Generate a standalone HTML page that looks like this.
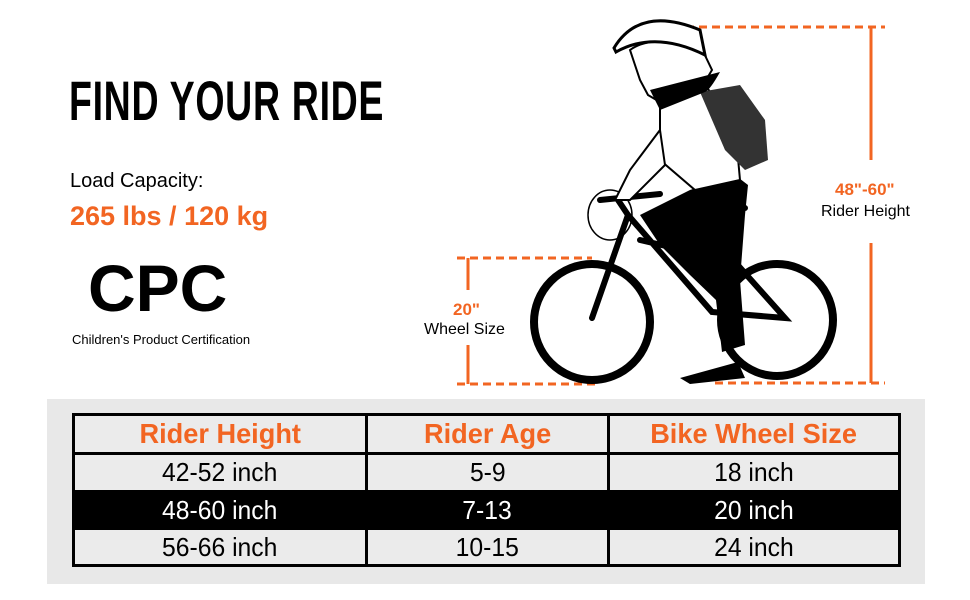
<!DOCTYPE html>
<html><head><meta charset="utf-8"><style>
body{margin:0;width:970px;height:600px;background:#fff;position:relative;overflow:hidden;font-family:"Liberation Sans",sans-serif}
.a{position:absolute;white-space:nowrap}
table{position:absolute;left:72px;top:413px;width:829px;border-collapse:collapse}
td{border:3px solid #000;text-align:center;font-size:26px;padding:0;background:#ebebeb}
td span{display:inline-block;transform:scaleX(0.95)}
td.h{color:#f26522;font-weight:bold;font-size:28px}
td.h span{transform:scaleX(0.97)}
td.k{background:#000;color:#fff}
</style></head><body>
<div class="a" style="left:69px;top:68px;font-weight:bold;font-size:56px;letter-spacing:1px;transform:scaleX(0.67);transform-origin:left">FIND YOUR RIDE</div>
<div class="a" style="left:70px;top:170px;font-size:20px">Load Capacity:</div>
<div class="a" style="left:70px;top:201px;font-size:27px;font-weight:bold;color:#f26522">265 lbs / 120 kg</div>
<div class="a" style="left:88px;top:250px;font-size:66px;font-weight:bold">CPC</div>
<div class="a" style="left:72px;top:332px;font-size:13px">Children's Product Certification</div>

<svg class="a" style="left:0;top:0" width="970" height="600">
<g stroke="#f26522" stroke-width="3" fill="none">
<line x1="660" y1="27" x2="885" y2="27" stroke-dasharray="8,5"/>
<line x1="871" y1="27" x2="871" y2="160"/>
<line x1="871" y1="243" x2="871" y2="383"/>
<line x1="715" y1="383" x2="885" y2="383" stroke-dasharray="8,5"/>
<line x1="457" y1="258" x2="592" y2="258" stroke-dasharray="8,5"/>
<line x1="468" y1="258" x2="468" y2="290"/>
<line x1="468" y1="345" x2="468" y2="384"/>
<line x1="457" y1="384" x2="597" y2="384" stroke-dasharray="8,5"/>
</g>
<g stroke="#000" fill="none" stroke-width="8">
<circle cx="592" cy="322" r="58"/>
<circle cx="777" cy="320" r="56"/>
</g>
<g stroke="#000" fill="none" stroke-width="6" stroke-linecap="round">
<path d="M592 318 L628 215 L712 312 L785 318 L735 262 L640 240"/>
<path d="M628 215 L618 200 M600 200 L660 194"/>
<path d="M700 218 L745 208"/>
</g>
<ellipse cx="610" cy="215" rx="22" ry="25" fill="none" stroke="#000" stroke-width="1.5"/>
<path d="M690 190 L735 175 L748 185 L745 215 L740 280 L745 345 L722 352 L716 300 L690 275 L660 245 L640 215Z" fill="#000"/>
<path d="M680 378 L738 362 L745 378 L690 384Z" fill="#000"/>
<path d="M660 100 L705 85 L735 125 L740 180 L695 190 L660 160Z" fill="#fff" stroke="#000" stroke-width="2"/>
<path d="M700 92 L740 85 L765 120 L768 160 L745 170 L725 150Z" fill="#333"/>
<path d="M660 130 L630 170 L615 200 L630 200 L665 165Z" fill="#fff" stroke="#000" stroke-width="2"/>
<path d="M630 50 Q650 35 700 45 L712 70 L700 90 L665 105 L648 95 L640 80Z" fill="#fff" stroke="#000" stroke-width="2"/>
<path d="M650 90 L720 72 Q710 90 705 92 L660 110Z" fill="#000"/>
<path d="M614 48 Q640 5 700 30 L705 55 Q655 30 616 52Z" fill="#fff" stroke="#000" stroke-width="3"/>
</svg>
<div class="a" style="left:835px;top:180px;font-size:17px;font-weight:bold;color:#f26522">48"-60"</div>
<div class="a" style="left:821px;top:203px;font-size:16px">Rider Height</div>
<div class="a" style="left:453px;top:300px;font-size:17px;font-weight:bold;color:#f26522">20"</div>
<div class="a" style="left:424px;top:321px;font-size:16px">Wheel Size</div>

<div class="a" style="left:47px;top:399px;width:878px;height:185px;background:#e8e8e8"></div>
<table>
<tr style="height:39px"><td class="h" style="width:290px"><span>Rider Height</span></td><td class="h" style="width:239px"><span>Rider Age</span></td><td class="h"><span>Bike Wheel Size</span></td></tr>
<tr style="height:38px"><td><span>42-52 inch</span></td><td><span>5-9</span></td><td><span>18 inch</span></td></tr>
<tr style="height:37px"><td class="k"><span>48-60 inch</span></td><td class="k"><span>7-13</span></td><td class="k"><span>20 inch</span></td></tr>
<tr style="height:37px"><td><span>56-66 inch</span></td><td><span>10-15</span></td><td><span>24 inch</span></td></tr>
</table>
</body></html>
